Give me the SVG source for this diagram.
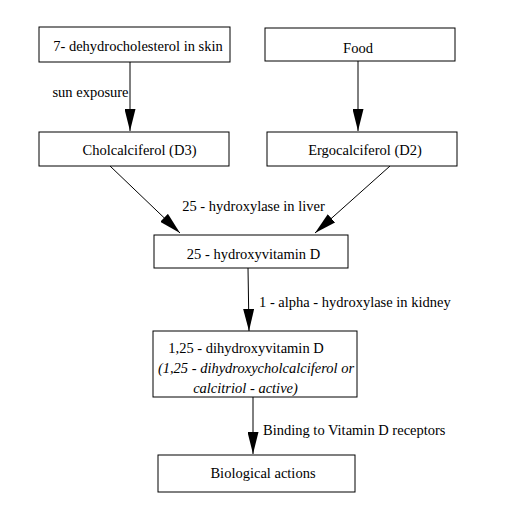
<svg xmlns="http://www.w3.org/2000/svg" width="516" height="510" viewBox="0 0 516 510">
<style>
.box{fill:#fff;stroke:#000;stroke-width:1}
text{font-family:"Liberation Serif","Times New Roman",serif;font-size:14.5px;fill:#000}
.c{text-anchor:middle}
.i{font-style:italic}
.conn{stroke:#000;stroke-width:1;fill:none}
</style>
<defs>
<marker id="ah" markerUnits="userSpaceOnUse" viewBox="0 0 22 11" refX="22" refY="5.5" markerWidth="22" markerHeight="11" orient="auto">
<path d="M0,0 L22,5.5 L0,11 z" fill="#000"/>
</marker>
</defs>
<rect width="516" height="510" fill="#fff"/>
<g id="connectors">
<line class="conn" x1="130" y1="62" x2="130" y2="131" marker-end="url(#ah)"/>
<line class="conn" x1="358" y1="61" x2="358" y2="131" marker-end="url(#ah)"/>
<line class="conn" x1="110" y1="166" x2="180" y2="233" marker-end="url(#ah)"/>
<line class="conn" x1="390" y1="166" x2="315" y2="233" marker-end="url(#ah)"/>
<line class="conn" x1="248" y1="268" x2="249" y2="331" marker-end="url(#ah)"/>
<line class="conn" x1="253" y1="397" x2="253" y2="454" marker-end="url(#ah)"/>
<text x="90.5" y="97" class="c">sun exposure</text>
<text x="253.5" y="211" class="c">25 - hydroxylase in liver</text>
<text x="259" y="307">1 - alpha - hydroxylase in kidney</text>
<text x="263" y="435">Binding to Vitamin D receptors</text>
</g>
<g id="n-dehydro">
<rect class="box" x="39" y="27" width="191" height="35"/>
<text x="138" y="51" class="c">7- dehydrocholesterol in skin</text>
</g>
<g id="n-food">
<rect class="box" x="265" y="28" width="190" height="33"/>
<text x="358" y="53" class="c">Food</text>
</g>
<g id="n-d3">
<rect class="box" x="39" y="132" width="190" height="34"/>
<text x="139.5" y="155" class="c">Cholcalciferol (D3)</text>
</g>
<g id="n-d2">
<rect class="box" x="267" y="132" width="190" height="34"/>
<text x="365" y="155" class="c">Ergocalciferol (D2)</text>
</g>
<g id="n-25oh">
<rect class="box" x="154" y="235" width="194" height="33"/>
<text x="253.5" y="259" class="c">25 - hydroxyvitamin D</text>
</g>
<g id="n-calcitriol">
<rect class="box" x="153" y="331" width="204" height="66"/>
<text x="246" y="353" class="c">1,25 - dihydroxyvitamin D</text>
<text x="256" y="373" class="c i">(1,25 - dihydroxycholcalciferol or</text>
<text x="245.5" y="393" class="c i">calcitriol - active)</text>
</g>
<g id="n-bio">
<rect class="box" x="158" y="455" width="197" height="37"/>
<text x="263" y="478" class="c">Biological actions</text>
</g>
</svg>
